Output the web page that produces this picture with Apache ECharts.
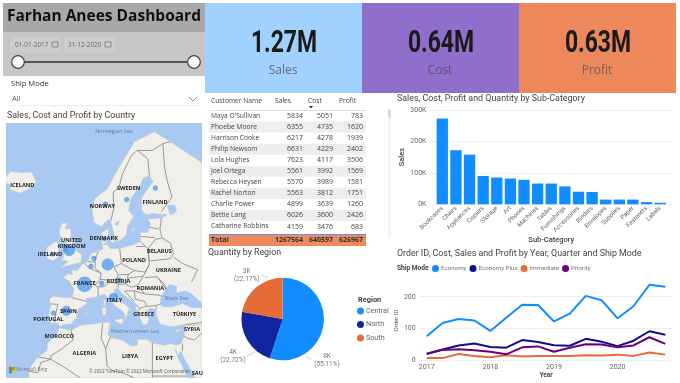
<!DOCTYPE html>
<html><head><meta charset="utf-8">
<style>html,body{margin:0;padding:0;background:#fff}#c{width:680px;height:383px}</style>
<script src="https://cdn.jsdelivr.net/npm/echarts@6/dist/echarts.min.js"></script>
</head><body><div id="c"></div>
<script>
// ---------- data ----------
const subCategories = ['Bookcases','Chairs','Appliances','Copiers','Storage','Art','Phones','Machines','Tables','Furnishings','Accessories','Binders','Envelopes','Supplies','Paper','Fasteners','Labels'];
const subCategorySales = [273000,172000,158000,90000,85000,82000,78000,66000,66000,57000,40000,39000,15000,15000,15000,7000,5000];
const quarters = ['2017','2017 Q2','2017 Q3','2017 Q4','2018','2018 Q2','2018 Q3','2018 Q4','2019','2019 Q2','2019 Q3','2019 Q4','2020','2020 Q2','2020 Q3','2020 Q4'];
const economy = [75,117,130,125,92,134,175,174,122,147,203,189,132,170,238,232];
const economyPlus = [20,33,46,52,41,39,63,57,47,45,67,58,44,61,91,80];
const immediate = [6,6,19,13,9,15,11,13,13,13,15,14,17,13,24,17];
const priority = [19,32,34,31,26,18,40,43,26,39,50,49,40,46,72,51];
const regions = ['Central','North','South'];
const regionShare = [55.11,22.72,22.17];
const regionQty = ['8K','4K','3K'];
const customers = ["Maya O'Sullivan",'Phoebe Moore','Harrison Cooke','Philip Newsom','Lola Hughes','Joel Ortega','Rebecca Heysen','Rachel Norton','Charlie Power','Bettie Lang','Catharine Robbins'];
const custSales = [5834,6355,6217,6631,7623,5561,5570,5563,4899,6026,4159];
const custCost = [5051,4735,4278,4229,4117,3992,3989,3812,3639,3600,3476];
const custProfit = [783,1620,1939,2402,3506,1569,1581,1751,1260,2426,683];
const totals = ['Total','1267564','640597','626967'];
const kpis = [['1.27M','Sales'],['0.64M','Cost'],['0.63M','Profit']];
const countryLon = [26,16.5,9.45,9.1,-2.6,-8.1,5.6,4.6,10.2,2.5,8.2,13.9,12.1,-3.5,-7.8];
const countryLat = [64.1,62.4,61.7,55.8,53.7,52.9,52.05,50.4,50.8,46.5,46.7,47.4,43.4,40.2,39.6];
const countrySales = [25000,25000,25000,20000,150000,20000,25000,25000,150000,250000,25000,32000,88000,100000,25000];

// rough basemap, lon/lat
const land = [
 [[-24,65.5],[-22,66.4],[-18,66.2],[-15,66.3],[-13.6,65],[-16,63.9],[-19,63.4],[-22.5,63.9],[-22,64.5],[-24,64.9]],
 [[25.7,71.1],[31,70],[41.5,67.5],[41.5,36.5],[36,36.5],[36,36.8],[32,36.1],[30,36.3],[27.5,36.8],[26.3,39],[26.2,40.5],[24,40.8],[23.5,40],[22.8,40.4],[23,39],[24,38],[23,36.5],[21.7,36.8],[21.2,38],[19.5,40.5],[19.5,42],[18,42.8],[15.5,44],[14,45.2],[13.6,45.7],[12.3,45.3],[12.5,44],[14,42.5],[16,41.8],[18.4,40.2],[17,40.4],[16.6,38.9],[15.7,38],[16,39],[15,40.2],[12.5,41.4],[10.5,43],[9,44.3],[7.5,43.8],[5,43.3],[3.2,43.2],[3.2,41.9],[0.5,40.6],[-0.3,39.3],[0,38.7],[-2,36.8],[-4.5,36.7],[-5.6,36],[-6.5,37],[-9,37],[-8.8,38.5],[-9.4,39],[-8.8,41.5],[-9.3,43],[-8,43.7],[-3,43.4],[-1.5,43.5],[-1.2,45.5],[-2.5,47.2],[-4.7,48],[-3,48.8],[-1.5,48.7],[-1.8,49.7],[0,49.5],[1.6,50.8],[3.5,51.4],[4.7,53],[7,53.5],[8.6,53.9],[8.2,55.5],[8.2,57],[10.6,57.7],[10.3,56.2],[9.8,55],[11,54],[14,54],[18.5,54.7],[21,55.3],[21,57],[23.5,57],[24.3,58.5],[23.5,59.3],[28,59.5],[30,60],[25,60.2],[22.8,60],[21.4,60.8],[21.5,62.8],[25.3,65],[24,65.8],[22,65.5],[21,64.5],[17.8,62.5],[17.2,60.7],[18.8,59.8],[16.7,58],[16.4,56.5],[14.3,55.5],[12.9,55.4],[11.2,58.8],[10.5,59.3],[8,58],[5.5,58.8],[5,61],[6,62.6],[10,64],[14,67],[19,70]],
 [[-5.5,50],[-3,50.6],[1.3,51.2],[1.7,52.7],[0,53.5],[-1.5,55],[-2,56],[-2,57.6],[-4,57.7],[-3,58.6],[-5,58.6],[-6,57],[-5,55.5],[-3.2,54.8],[-3,53.4],[-4.5,53.3],[-4.5,52.2],[-5.2,51.8],[-3,51.4]],
 [[-10,52],[-8,51.6],[-6.2,52.2],[-6,54],[-5.6,54.8],[-7.3,55.3],[-10,54.2]],
 [[12.5,38],[15.5,38.2],[15,36.7],[12.7,37.5]],
 [[8.3,41],[9.7,41],[9.6,39.1],[8.5,39]],
 [[8.7,42.9],[9.5,42.9],[9.3,41.4],[8.8,41.6]],
 [[23.6,35.5],[26.2,35.2],[24.8,34.9]],
 [[32.4,35],[34.5,35.6],[33.8,34.8],[32.8,34.6]],
 [[2.4,39.6],[3.4,39.9],[3.1,39.3]],
 [[11,55.7],[12.6,56],[12.4,55],[11.2,55.2]],
 [[18.2,57.6],[19,57.9],[18.7,57]],
 [[-16,21.4],[-16,24],[-13,27.7],[-10,29.5],[-9.7,31.5],[-6.8,34],[-5.9,35.8],[-2,35.1],[1,36.5],[5,36.8],[10,37.3],[11,36.8],[10.2,34],[11,33.2],[15.2,32.4],[18,30.8],[20,31],[20,32.7],[23,32.7],[25,31.7],[29,31],[31,31.5],[33,31],[34.5,31.5],[35.5,33.5],[36,36.5],[41.5,36.5],[41.5,21.4]]
];
const water = [
 [[28,41.5],[27.7,43],[29,45],[30.7,46.5],[33,46],[33,44.5],[36,45],[38,44.3],[41.5,42],[41.5,41],[38,41],[35,42],[31.5,41.2],[29,41.2]],
 [[32.6,29.9],[33.5,27.5],[35.5,24],[36.9,21.4],[39.2,21.4],[37,25],[35,28],[34.5,29.5],[33.5,28]],
 [[31,60],[33,60.5],[32.5,61.5],[30,61.5]],
 [[12.5,58.5],[14,59],[13.5,58.2]]
];
const borders = [
 [[20,69],[18,68.4],[15,66],[14,64.3],[12,63.5],[12.2,61],[11.2,59]],
 [[20,69],[23.5,68],[24,65.8]],
 [[20,69],[25,69],[28.5,69.8],[31,70]],
 [[28.5,69.8],[29,67],[30,65],[31.5,62.8],[28,60.5]],
 [[28,59.5],[27.5,57.5],[28.2,56]],[[21,56.3],[26,56]],[[24,57.9],[27,57.6]],[[21,55.3],[22.8,54.4]],
 [[23.5,53.9],[26,55.7],[28.2,56],[31,55],[32,53],[31,52],[24,51.5],[23.5,53.9]],
 [[14.2,53.9],[14.7,51],[19,49.5],[22.7,49.2],[24,50.8],[23.5,53.9],[22.8,54.4],[19.5,54.4]],
 [[8.8,54.9],[9.8,54.8]],
 [[7,53.4],[6,51.8],[6,50],[8,49],[7.6,47.6],[10,47.5],[13,47.6],[13.7,48.6],[12.2,50.3],[14.7,51]],
 [[3.4,51.4],[6,51.3]],[[2.5,51],[4.2,50],[6,49.5],[8,49]],
 [[-1.7,43.4],[3.2,42.5]],
 [[-8.8,41.9],[-6.3,41.8],[-7,39.7],[-7.4,37.2]],
 [[7.6,47.6],[6,46.3],[7,45.9],[7,44],[7.5,43.8]],
 [[7,45.9],[9,46],[10.4,46.8],[12,47],[13.7,46.5],[13.6,45.7]],[[10,47.5],[10.4,46.8]],
 [[13.7,48.6],[17,48.7],[16.5,47],[16,46.6],[13.7,46.5]],
 [[17,48.7],[19,49.5]],[[22.5,49],[22,48.3],[17,47.9]],
 [[22,48.3],[20,46.2],[18,45.8],[16,46.6]],
 [[22.5,48],[26.5,48.2],[29.7,45.3]],[[20.3,46],[22.5,44.3],[27,44],[28.5,43.7]],
 [[32,52.3],[35,51],[40,49.7],[38,47]],[[24,50.8],[22.5,49]],[[26.5,48.2],[29,46.5],[29.7,45.3]],
 [[15.7,45],[19,45],[22.5,44.3]],[[15.7,45],[19,42.5]],[[19.3,43],[22.5,42.5],[23,41.3],[26.3,41.5],[28,42]],
 [[19.5,41.7],[20.8,40.8],[20,39.7]],[[20.8,40.8],[23,41.3]],[[19,45],[19.3,43]],
 [[26.3,41.5],[26.2,40.5]],[[36,36.7],[41.5,37.2]],[[41.5,34.5],[39,32.5],[36.5,33],[35.5,33.5]],[[35,31.5],[35,29.5]],
 [[-2,35.1],[-1.2,32.5],[-5,30],[-8.7,28]],[[-8.7,28],[-8.7,27],[-13,27.7]],[[-8.7,27],[-4.8,25],[1,21.4]],
 [[-16,23.5],[-13,23],[-12,26],[-8.7,27]],
 [[8.5,36.9],[8,33],[9.5,30],[10,25],[12,23.5],[15,23],[19,21.4]],[[11,33.2],[9.5,30]],
 [[25,31.7],[25,21.4]],[[25,22],[36.5,22]]
];
const mapLabels = [['ICELAND',67,195],['SWEDEN',386,206],['FINLAND',465,247],['NORWAY',307,260],['DENMARK',311,354],['UNITED',215,362],['KINGDOM',215,380],['IRELAND',150,402],['POLAND',402,421],['BELARUS',478,395],['UKRAINE',505,452],['FRANCE',254,490],['AUSTRIA',355,484],['ROMANIA',451,505],['ITALY',343,540],['SPAIN',205,575],['PORTUGAL',145,597],['GREECE',431,584],['T\u00dcRKIYE',553,584],['SYRIA',576,628],['MOROCCO',178,650],['ALGERIA',253,701],['LIBYA',390,710],['EGYPT',493,716],['SAU',592,760]];
const seaLabels = [['Norwegian Sea',342,35],['Black Sea',530,535],['Mediterranean Sea',405,635]];

// ---------- helpers ----------
const merc = lat => Math.log(Math.tan(Math.PI/4 + lat*Math.PI/360));
const BODY = '"Open Sans",sans-serif', DIN = 'Roboto,sans-serif';
const g = [];
function R(x,y,w,h,fill,z){ g.push({type:'rect',silent:true,z:z||0,shape:{x,y,width:w,height:h},style:{fill}}); }
function T(x,y,text,size,fill,o){ o=o||{}; g.push({type:'text',silent:true,z:o.z||20,x,y,scaleX:o.sx||1,
  style:{text,fontSize:size,fill,fontFamily:o.font||BODY,fontWeight:o.w||'normal',align:o.a||'left',verticalAlign:'middle'}}); }

// left header
R(3,3,202,29,'#a8a8a8'); R(3,32,202,44,'#c6c6c6');
T(7,17,'Farhan Anees Dashboard',15.5,'#111',{w:'bold'});
R(10,37,51,16,'#cdcdcd'); R(64,37,51,16,'#cdcdcd');
T(15,45,'01-01-2017',6.4,'#666'); T(68,45,'31-12-2020',6.4,'#666');
[52,105].forEach(x=>g.push({type:'rect',silent:true,z:20,shape:{x,y:42,width:6,height:5},style:{fill:'none',stroke:'#777',lineWidth:.8}}));
R(18,61,176,2,'#555',5);
[18,194].forEach(cx=>g.push({type:'circle',silent:true,z:6,shape:{cx,cy:62,r:6.3},style:{fill:'#fff',stroke:'#444',lineWidth:1.2}}));
T(11,84,'Ship Mode',7.6,'#333'); T(12,99,'All',7.5,'#555');
g.push({type:'polyline',silent:true,z:20,shape:{points:[[189,97],[193,101],[197,97]]},style:{stroke:'#888',fill:'none',lineWidth:.9}});
R(8,105,192,1,'#efefef');
T(7,116,'Sales, Cost and Profit by Country',8.85,'#444',{font:DIN});
// map
R(6,123,196,255,'#a9c8f2');
mapLabels.forEach(l=>T(l[1]/3,120+l[2]/3,l[0],5.6,'#222',{a:'center',w:'bold',z:30}));
seaLabels.forEach(l=>T(l[1]/3,120+l[2]/3,l[0],5.4,'#5f80a8',{a:'center',z:30}));
[['#f25022',9,367],['#7fba00',12.2,367],['#00a4ef',9,370.2],['#ffb900',12.2,370.2]].forEach(c=>R(c[1],c[2],3,3,c[0],30));
T(16,370,'Microsoft Bing',4.6,'#777',{z:30});
T(89,372,'\u00a9 2022 TomTom \u00a9 2022 Microsoft Corporation',4.6,'#555',{z:30});
// KPI tiles
const tileX=[205,362,519], tileC=['#a1d1ff','#8f6fcb','#ec885c'], labC=['#5e6a75','#5f4f78','#7a5f52'];
kpis.forEach((k,i)=>{ R(tileX[i],3,157,90,tileC[i]);
  T(tileX[i]+79,44,k[0],31,'#1a1a1a',{a:'center',font:DIN,w:'bold',sx:.74});
  T(tileX[i]+78,70.5,k[1],12,labC[i],{a:'center'}); });
// table
const hdr=[['Customer Name',211],['Sales',275],['Cost',308],['Profit',339]];
hdr.forEach(h=>T(h[1],101,h[0],6.7,'#444'));
g.push({type:'polygon',silent:true,z:20,shape:{points:[[309,106],[313,106],[311,108.5]]},style:{fill:'#222'}});
R(209,110.3,157,.8,'#c9d5f5');
customers.forEach((c,i)=>{ const y=116+i*11.05;
  if(i%2) R(209,y-5.5,157,11.05,'#eeeeee');
  T(211,y,c,6.7,'#444');
  T(303,y,String(custSales[i]),7,'#444',{a:'right'});
  T(333,y,String(custCost[i]),7,'#444',{a:'right'});
  T(363,y,String(custProfit[i]),7,'#444',{a:'right'}); });
R(209,234,157,12,'#ee8a5e'); R(209,234,157,1,'#5f97e8',1);
T(211,240,totals[0],7,'#333',{w:'bold'});
T(303,240,totals[1],7,'#333',{w:'bold',a:'right'});
T(333,240,totals[2],7,'#333',{w:'bold',a:'right'});
T(363,240,totals[3],7,'#333',{w:'bold',a:'right'});
R(388,108,3,130,'#f3f3f3'); R(388,110,3,7,'#d8d8d8');
// chart titles
T(397,99,'Sales, Cost, Profit and Quantity by Sub-Category',8.9,'#444',{font:DIN});
T(397,254,'Order ID, Cost, Sales and Profit by Year, Quarter and Ship Mode',8.85,'#444',{font:DIN});
T(208,253,'Quantity by Region',8.8,'#444',{font:DIN});
T(397,268.7,'Ship Mode',6.6,'#444',{font:DIN,w:'bold'});
T(358,300,'Region',7.4,'#444',{font:DIN,w:'bold'});

const dotted={show:true,lineStyle:{color:'#ddd',type:'dotted',width:1}};
const hiddenAxis=(extra)=>Object.assign({show:false,type:'value'},extra);
const mapXMin=-23.55,mapXMax=41.46,mapYMin=merc(21.4),mapYMax=merc(72);
const pieLabelAt=[[327,360],[233,356.5],[246.7,275.5]];
const pieLeader=[[[305.7,356.7],[311.7,359.3]],[[255,352],[246.7,356]],[[268,277.7],[261,275]]];

const option={
 animation:false,
 backgroundColor:'#fff',
 graphic:{elements:g},
 grid:[
  {left:6,top:123,width:196,height:255},
  {left:435.5,top:110,width:231.5,height:94.3},
  {left:430,top:110,width:242,height:94.3},
  {left:426.7,top:281,width:238.6,height:79},
  {left:421,top:296.7,width:252,height:63.3}
 ],
 xAxis:[
  hiddenAxis({gridIndex:0,min:mapXMin,max:mapXMax}),
  {gridIndex:1,type:'category',data:subCategories,
   axisLine:{show:false},axisTick:{show:false},
   axisLabel:{interval:0,rotate:45,fontSize:6.2,color:'#666',fontFamily:DIN,margin:3},
   name:'Sub-Category',nameLocation:'middle',nameGap:30,nameTextStyle:{fontSize:7.5,color:'#444',fontFamily:DIN,fontWeight:500}},
  hiddenAxis({gridIndex:2,min:0,max:1}),
  {gridIndex:3,type:'category',data:quarters,boundaryGap:false,
   axisLine:{show:false},axisTick:{show:false},
   axisLabel:{interval:3,fontSize:7,color:'#666',fontFamily:DIN,margin:4,formatter:v=>v.slice(0,4)},
   name:'Year',nameLocation:'middle',nameGap:12,nameTextStyle:{fontSize:6.5,color:'#444',fontFamily:DIN,fontWeight:'bold'}},
  hiddenAxis({gridIndex:4,min:0,max:1})
 ],
 yAxis:[
  hiddenAxis({gridIndex:0,min:mapYMin,max:mapYMax}),
  {gridIndex:1,type:'value',min:0,max:300000,interval:100000,
   axisLine:{show:false},axisTick:{show:false},splitLine:{show:false},
   axisLabel:{fontSize:7,color:'#666',fontFamily:DIN,margin:9,formatter:v=>v/1000+'K'},
   name:'Sales',nameLocation:'middle',nameGap:29,nameTextStyle:{fontSize:7.5,color:'#444',fontFamily:DIN,fontWeight:500}},
  {gridIndex:2,type:'value',min:0,max:300000,interval:100000,axisLine:{show:false},axisTick:{show:false},axisLabel:{show:false},splitLine:dotted},
  {gridIndex:3,type:'value',min:0,max:250,interval:100,
   axisLine:{show:false},axisTick:{show:false},splitLine:{show:false},
   axisLabel:{fontSize:7,color:'#666',fontFamily:DIN,margin:11,formatter:v=>v>200?'':String(v)},
   name:'Order ID',nameLocation:'middle',nameGap:23,nameTextStyle:{fontSize:6,color:'#555',fontFamily:DIN}},
  {gridIndex:4,type:'value',min:0,max:200,interval:100,axisLine:{show:false},axisTick:{show:false},axisLabel:{show:false},splitLine:dotted}
 ],
 legend:[
  {left:432,top:265,itemWidth:7,itemHeight:7,itemGap:3,icon:'circle',padding:0,selectedMode:false,
   data:['Economy','Economy Plus','Immediate','Priority'],
   textStyle:{fontSize:6.2,color:'#777',fontFamily:DIN,padding:[0,0,0,-3]}},
  {left:357,top:307.5,orient:'vertical',itemWidth:7,itemHeight:7,itemGap:6.5,icon:'circle',padding:0,selectedMode:false,
   data:regions,textStyle:{fontSize:7.2,color:'#666',fontFamily:DIN,padding:[0,0,0,-3]}}
 ],
 series:[
  {type:'custom',name:'basemap',xAxisIndex:0,yAxisIndex:0,clip:true,silent:true,z:1,coordinateSystem:'cartesian2d',
   data:land.map((p,i)=>[i]).concat(water.map((p,i)=>[land.length+i])),
   renderItem:function(params,api){
     const i=params.dataIndex, isLand=i<land.length, pts=isLand?land[i]:water[i-land.length];
     const children=[{type:'polygon',shape:{points:pts.map(p=>api.coord([p[0],merc(p[1])]))},
       style:{fill:isLand?'#f1efe9':'#a9c8f2',stroke:isLand?'#c8c8c4':'#a9c8f2',lineWidth:.6}}];
     if(i===land.length+water.length-1) borders.forEach(b=>children.push({type:'polyline',
       shape:{points:b.map(p=>api.coord([p[0],merc(p[1])]))},style:{fill:'none',stroke:'#8f8f8f',lineWidth:.9}}));
     return {type:'group',children};
   }},
  {type:'scatter',name:'Sales by Country',xAxisIndex:0,yAxisIndex:0,z:5,silent:true,
   data:countryLon.map((lon,i)=>[lon,merc(countryLat[i]),countrySales[i]]),
   symbolSize:d=>Math.sqrt(d[2])*0.0294,
   itemStyle:{color:'rgba(45,140,245,0.8)',borderColor:'#3d8fe6',borderWidth:.6}},
  {type:'bar',name:'Sales',xAxisIndex:1,yAxisIndex:1,data:subCategorySales,barWidth:11.3,itemStyle:{color:'#118DFF'},z:3},
  {type:'line',name:'Economy',xAxisIndex:3,yAxisIndex:3,data:economy,showSymbol:false,lineStyle:{width:2,color:'#118DFF'},itemStyle:{color:'#118DFF'}},
  {type:'line',name:'Economy Plus',xAxisIndex:3,yAxisIndex:3,data:economyPlus,showSymbol:false,lineStyle:{width:2,color:'#0d0d8f'},itemStyle:{color:'#0d0d8f'}},
  {type:'line',name:'Immediate',xAxisIndex:3,yAxisIndex:3,data:immediate,showSymbol:false,lineStyle:{width:2,color:'#E66C37'},itemStyle:{color:'#E66C37'}},
  {type:'line',name:'Priority',xAxisIndex:3,yAxisIndex:3,data:priority,showSymbol:false,lineStyle:{width:2,color:'#6B007B'},itemStyle:{color:'#6B007B'}},
  {type:'pie',name:'Quantity by Region',center:[282.7,319],radius:[0,41.3],startAngle:90,clockwise:true,
   data:regions.map((n,i)=>({name:n,value:regionShare[i],itemStyle:{color:['#118DFF','#12239E','#E66C37'][i]}})),
   label:{fontSize:6.5,color:'#777',lineHeight:8,fontFamily:DIN,formatter:p=>regionQty[p.dataIndex]+'\n('+p.value.toFixed(2)+'%)'},
   labelLine:{show:true,lineStyle:{color:'#bbb',width:.7}},
   labelLayout:p=>({x:pieLabelAt[p.dataIndex][0],y:pieLabelAt[p.dataIndex][1],align:'center',verticalAlign:'middle',labelLinePoints:[pieLeader[p.dataIndex][0],pieLeader[p.dataIndex][1],pieLeader[p.dataIndex][1]]})}
 ]
};
echarts.init(document.getElementById('c'),null,{renderer:'canvas'}).setOption(option);
</script></body></html>
